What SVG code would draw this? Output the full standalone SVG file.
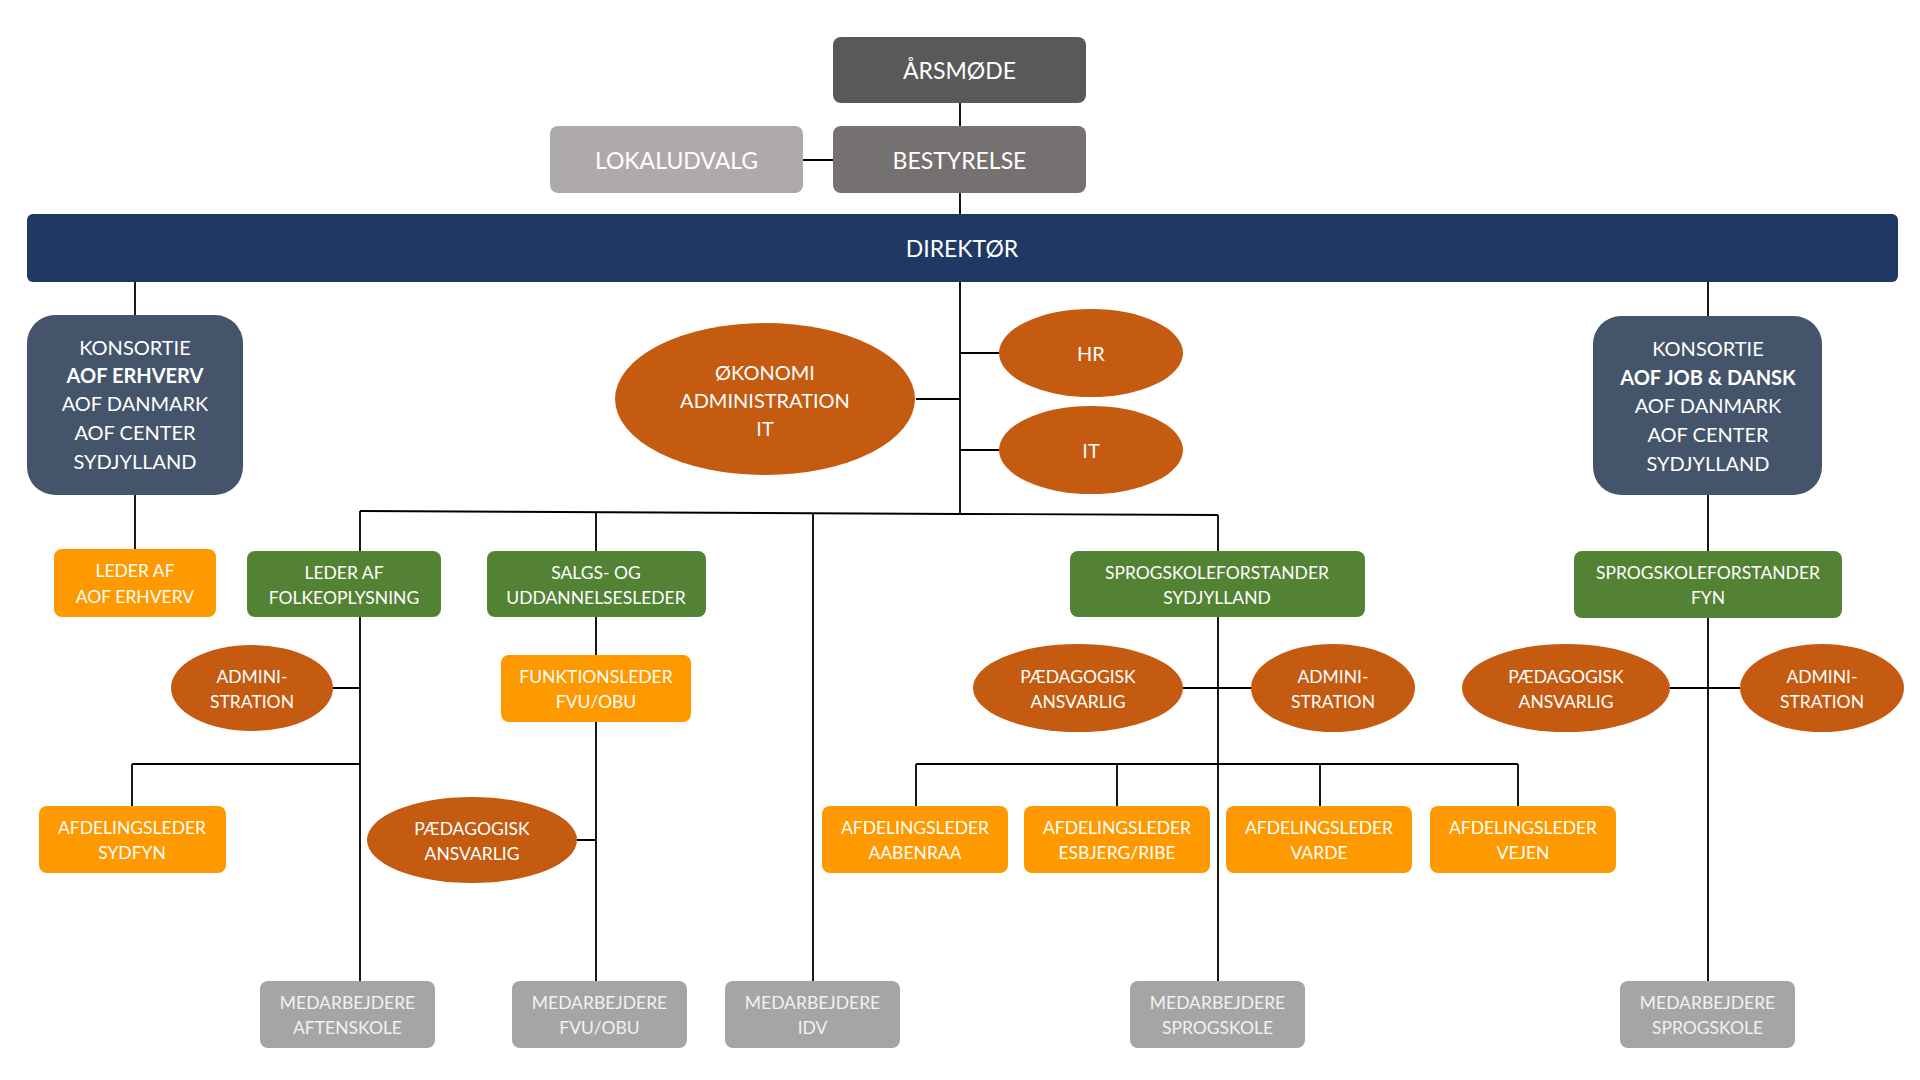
<svg xmlns="http://www.w3.org/2000/svg" width="1920" height="1080" viewBox="0 0 1920 1080">
<style>
text{font-family:Lato,"Open Sans","Liberation Sans",sans-serif;fill:#fff;text-anchor:middle;dominant-baseline:central}
.t24{font-size:23px}
.t21{font-size:20px}
.t18{font-size:17.5px}
.b{font-weight:bold}
.dk{fill:#595959}.md{fill:#767171}.lt{fill:#AEAAAA}
.nv{fill:#203864}.sl{fill:#44546A}
.el{fill:#C55A11}.or{fill:#FF9900}.gr{fill:#548235}.gy{fill:#A5A5A5}
.mg{fill:#F2F2F2}
#connectors path{fill:none;stroke:#000;stroke-width:1.8}
</style>
<rect width="1920" height="1080" fill="#fff"/>
<g id="connectors">
<path d="M960 103V126M803 160H833M960 193V214M960 282V513"/>
<path d="M135 282V315M135 495V549M1708 282V316M1708 495V551"/>
<path d="M916 399H960M999 353H960M999 450H960"/>
<path d="M360 511L960 514L1218 515"/>
<path d="M360 511V551M360 617V981M596 512V551M596 617V655M596 722V981M813 513V981M1218 515V551M1218 617V981"/>
<path d="M333 688H360M132 764H360M132 764V806M577 840H596"/>
<path d="M1183 688H1252M916 764H1518M916 764V806M1117 764V806M1320 764V806M1518 764V806"/>
<path d="M1708 618V981M1670 688H1740"/>
</g>
<g id="aarsmoede"><rect class="dk" x="833" y="37" width="253" height="66" rx="8"/><text class="t24" x="959.5" y="70">ÅRSMØDE</text></g>
<g id="bestyrelse"><rect class="md" x="833" y="126" width="253" height="67" rx="8"/><text class="t24" x="959.5" y="160">BESTYRELSE</text></g>
<g id="lokaludvalg"><rect class="lt" x="550" y="126" width="253" height="67" rx="8"/><text class="t24" x="676.5" y="160">LOKALUDVALG</text></g>
<g id="direktoer"><rect class="nv" x="27" y="214" width="1871" height="68" rx="6"/><text class="t24" x="962" y="248">DIREKTØR</text></g>
<g id="konsortie-erhverv"><rect class="sl" x="27" y="315" width="216" height="180" rx="28"/>
<text class="t21" x="135" y="347">KONSORTIE</text><text class="t21 b" x="135" y="375">AOF ERHVERV</text><text class="t21" x="135" y="403">AOF DANMARK</text><text class="t21" x="135" y="432">AOF CENTER</text><text class="t21" x="135" y="461">SYDJYLLAND</text></g>
<g id="konsortie-job"><rect class="sl" x="1593" y="316" width="229" height="179" rx="28"/>
<text class="t21" x="1708" y="348">KONSORTIE</text><text class="t21 b" x="1708" y="377">AOF JOB &amp; DANSK</text><text class="t21" x="1708" y="405">AOF DANMARK</text><text class="t21" x="1708" y="434">AOF CENTER</text><text class="t21" x="1708" y="463">SYDJYLLAND</text></g>
<g id="oekonomi"><ellipse class="el" cx="765" cy="399" rx="150" ry="76"/><text class="t21" x="765" y="372">ØKONOMI</text><text class="t21" x="765" y="400">ADMINISTRATION</text><text class="t21" x="765" y="428">IT</text></g>
<g id="hr"><ellipse class="el" cx="1091" cy="353" rx="92" ry="44"/><text class="t21" x="1091" y="353">HR</text></g>
<g id="it"><ellipse class="el" cx="1091" cy="450" rx="92" ry="44"/><text class="t21" x="1091" y="450">IT</text></g>
<g id="leder-aof-erhverv"><rect class="or" x="54" y="549" width="162" height="68" rx="8"/><text class="t18" x="135" y="570">LEDER AF</text><text class="t18" x="135" y="596">AOF ERHVERV</text></g>
<g id="leder-folkeoplysning"><rect class="gr" x="247" y="551" width="194" height="66" rx="8"/><text class="t18" x="344" y="572">LEDER AF</text><text class="t18" x="344" y="597">FOLKEOPLYSNING</text></g>
<g id="salgs-uddannelsesleder"><rect class="gr" x="487" y="551" width="219" height="66" rx="8"/><text class="t18" x="596" y="572">SALGS- OG</text><text class="t18" x="596" y="597">UDDANNELSESLEDER</text></g>
<g id="sprog-sydjylland"><rect class="gr" x="1070" y="551" width="295" height="66" rx="8"/><text class="t18" x="1217" y="572">SPROGSKOLEFORSTANDER</text><text class="t18" x="1217" y="597">SYDJYLLAND</text></g>
<g id="sprog-fyn"><rect class="gr" x="1574" y="551" width="268" height="67" rx="8"/><text class="t18" x="1708" y="572">SPROGSKOLEFORSTANDER</text><text class="t18" x="1708" y="597">FYN</text></g>
<g id="admin-folk"><ellipse class="el" cx="252" cy="688" rx="81" ry="43"/><text class="t18" x="252" y="676">ADMINI-</text><text class="t18" x="252" y="701">STRATION</text></g>
<g id="funktionsleder"><rect class="or" x="501" y="655" width="190" height="67" rx="8"/><text class="t18" x="596" y="676">FUNKTIONSLEDER</text><text class="t18" x="596" y="701">FVU/OBU</text></g>
<g id="afd-sydfyn"><rect class="or" x="39" y="806" width="187" height="67" rx="8"/><text class="t18" x="132" y="827">AFDELINGSLEDER</text><text class="t18" x="132" y="852">SYDFYN</text></g>
<g id="paed-fvu"><ellipse class="el" cx="472" cy="840" rx="105" ry="43"/><text class="t18" x="472" y="828">PÆDAGOGISK</text><text class="t18" x="472" y="853">ANSVARLIG</text></g>
<g id="paed-syd"><ellipse class="el" cx="1078" cy="688" rx="105" ry="44"/><text class="t18" x="1078" y="676">PÆDAGOGISK</text><text class="t18" x="1078" y="701">ANSVARLIG</text></g>
<g id="admin-syd"><ellipse class="el" cx="1333" cy="688" rx="82" ry="44"/><text class="t18" x="1333" y="676">ADMINI-</text><text class="t18" x="1333" y="701">STRATION</text></g>
<g id="paed-fyn"><ellipse class="el" cx="1566" cy="688" rx="104" ry="44"/><text class="t18" x="1566" y="676">PÆDAGOGISK</text><text class="t18" x="1566" y="701">ANSVARLIG</text></g>
<g id="admin-fyn"><ellipse class="el" cx="1822" cy="688" rx="82" ry="44"/><text class="t18" x="1822" y="676">ADMINI-</text><text class="t18" x="1822" y="701">STRATION</text></g>
<g id="afd-aabenraa"><rect class="or" x="822" y="806" width="186" height="67" rx="8"/><text class="t18" x="915" y="827">AFDELINGSLEDER</text><text class="t18" x="915" y="852">AABENRAA</text></g>
<g id="afd-esbjerg"><rect class="or" x="1024" y="806" width="186" height="67" rx="8"/><text class="t18" x="1117" y="827">AFDELINGSLEDER</text><text class="t18" x="1117" y="852">ESBJERG/RIBE</text></g>
<g id="afd-varde"><rect class="or" x="1226" y="806" width="186" height="67" rx="8"/><text class="t18" x="1319" y="827">AFDELINGSLEDER</text><text class="t18" x="1319" y="852">VARDE</text></g>
<g id="afd-vejen"><rect class="or" x="1430" y="806" width="186" height="67" rx="8"/><text class="t18" x="1523" y="827">AFDELINGSLEDER</text><text class="t18" x="1523" y="852">VEJEN</text></g>
<g id="med-aftenskole"><rect class="gy" x="260" y="981" width="175" height="67" rx="8"/><text class="t18 mg" x="347.5" y="1002">MEDARBEJDERE</text><text class="t18 mg" x="347.5" y="1027">AFTENSKOLE</text></g>
<g id="med-fvu"><rect class="gy" x="512" y="981" width="175" height="67" rx="8"/><text class="t18 mg" x="599.5" y="1002">MEDARBEJDERE</text><text class="t18 mg" x="599.5" y="1027">FVU/OBU</text></g>
<g id="med-idv"><rect class="gy" x="725" y="981" width="175" height="67" rx="8"/><text class="t18 mg" x="812.5" y="1002">MEDARBEJDERE</text><text class="t18 mg" x="812.5" y="1027">IDV</text></g>
<g id="med-sprog-syd"><rect class="gy" x="1130" y="981" width="175" height="67" rx="8"/><text class="t18 mg" x="1217.5" y="1002">MEDARBEJDERE</text><text class="t18 mg" x="1217.5" y="1027">SPROGSKOLE</text></g>
<g id="med-sprog-fyn"><rect class="gy" x="1620" y="981" width="175" height="67" rx="8"/><text class="t18 mg" x="1707.5" y="1002">MEDARBEJDERE</text><text class="t18 mg" x="1707.5" y="1027">SPROGSKOLE</text></g>
</svg>
